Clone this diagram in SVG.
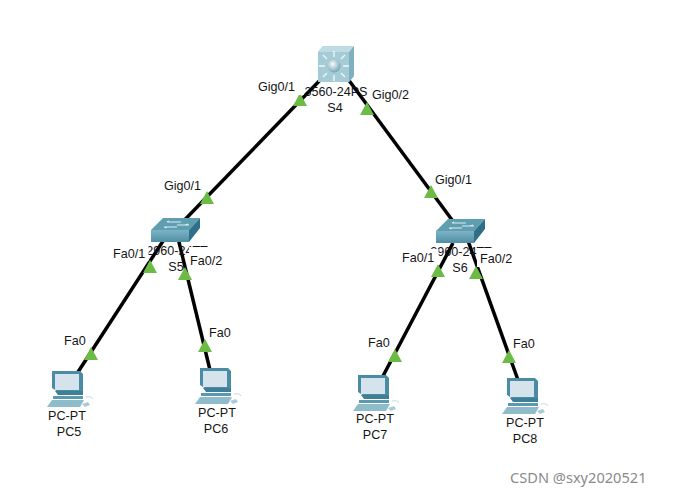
<svg xmlns="http://www.w3.org/2000/svg" width="676" height="495" viewBox="0 0 676 495">
<style>
text{font-family:"Liberation Sans",Arial,sans-serif;font-size:12.6px;fill:#151515}
.m{text-anchor:middle}
.link{stroke:#000;stroke-width:3.5;fill:none}
.tri{fill:#6cbb45}
.bg{fill:#fff}
.wm{font-family:"Noto Sans","Liberation Sans",sans-serif;font-size:14.6px;fill:#8a8a8a}
</style>
<defs>
<radialGradient id="ball" cx="0.4" cy="0.35" r="0.7"><stop offset="0" stop-color="#f6fbfd"/><stop offset="1" stop-color="#6d9fb0"/></radialGradient>
<linearGradient id="front" x1="0" y1="0" x2="0" y2="1"><stop offset="0" stop-color="#7db4c5"/><stop offset="1" stop-color="#4f8ea5"/></linearGradient>
<polygon id="t" class="tri" points="0,-7 7,6 -7,6"/>
<g id="sw">
<polygon points="0,12 12,0 49,0 38,12" fill="#5f9db1"/>
<polygon points="38,12 49,0 49,10 38,24" fill="#2f6f88"/>
<rect x="0" y="12" width="38" height="12" fill="url(#front)"/>
<path d="M17 4h13M26 7h12M13 9h13M18 3l-2 1M37 6l-3 1M16 9l-2 1" stroke="#dcecf1" stroke-width="1.1" fill="none"/>
</g>
<g id="pc">
<polygon points="2,0 30,0 33,3 33,20 8,21 2,17" fill="#4a8ca3"/>
<rect x="5" y="3" width="24" height="16" fill="#d5e4ec"/>
<polygon points="5,20 33,20 33,24 8,24" fill="#3d7f96"/>
<polygon points="3,25 33,25 33,28 3,28" fill="#5a9ab0"/>
<polygon points="-3,36 2,29 34,29 30,36" fill="#8fbccb"/>
<polygon points="32,33 38,31 40,34 35,36" fill="#a9cbd6"/>
<path d="M36 26q6-1 7 2" stroke="#c6d8df" fill="none"/>
</g>
</defs>
<rect width="676" height="495" fill="#fff"/>
<g id="connectors">
<line class="link" x1="325" y1="75" x2="170" y2="235"/>
<line class="link" x1="345" y1="75" x2="458" y2="228"/>
<line class="link" x1="165" y1="238" x2="78" y2="372"/>
<line class="link" x1="178" y1="238" x2="210" y2="370"/>
<line class="link" x1="453" y1="243" x2="383" y2="376"/>
<line class="link" x1="467" y1="238" x2="518" y2="380"/>
<use href="#t" x="300" y="100"/>
<use href="#t" x="207" y="198"/>
<use href="#t" x="367" y="109"/>
<use href="#t" x="431" y="192"/>
<use href="#t" x="150" y="267"/>
<use href="#t" x="91" y="354"/>
<use href="#t" x="185" y="274"/>
<use href="#t" x="205" y="346"/>
<use href="#t" x="438" y="271"/>
<use href="#t" x="395" y="356"/>
<use href="#t" x="476" y="273"/>
<use href="#t" x="509" y="357"/>
</g>
<g id="S4">
<polygon points="318,52 323,46 354,46 354,76 349,82 318,82" fill="#a5cbd6"/>
<polygon points="349,52 354,46 354,76 349,82" fill="#7fb0bf"/>
<polygon points="318,52 323,46 354,46 349,52" fill="#bfdbe3"/>
<circle cx="334" cy="66" r="6.5" fill="url(#ball)"/>
<path d="M334 57v-6M334 75v6M325 66h-6M343 66h6M327 59l-4-4M341 73l4 4M341 59l4-4M327 73l-4 4" stroke="#f1f7f9" stroke-width="1.4"/>
<text class="m" x="336" y="96">3560-24PS</text>
<text class="m" x="335" y="112">S4</text>
</g>
<g id="S5">
<use href="#sw" x="151" y="218"/>
<text class="m" x="177" y="255">2960-24TT</text>
<text class="m" x="176" y="271">S5</text>
</g>
<g id="S6">
<use href="#sw" x="436" y="219"/>
<text class="m" x="461" y="256">2960-24TT</text>
<text class="m" x="460" y="272">S6</text>
</g>
<g id="PC5"><use href="#pc" x="50" y="371"/><text class="m" x="67" y="420">PC-PT</text><text class="m" x="69" y="436">PC5</text></g>
<g id="PC6"><use href="#pc" x="198" y="368"/><text class="m" x="217" y="417">PC-PT</text><text class="m" x="216" y="433">PC6</text></g>
<g id="PC7"><use href="#pc" x="356" y="375"/><text class="m" x="375" y="423">PC-PT</text><text class="m" x="375" y="439">PC7</text></g>
<g id="PC8"><use href="#pc" x="505" y="378"/><text class="m" x="525" y="427">PC-PT</text><text class="m" x="525" y="443">PC8</text></g>
<g id="port-labels">
<rect class="bg" x="257" y="79" width="47" height="16"/>
<text x="258" y="91">Gig0/1</text>
<text x="372" y="99">Gig0/2</text>
<text x="164" y="190">Gig0/1</text>
<text x="435" y="184">Gig0/1</text>
<rect class="bg" x="112" y="245" width="36.500" height="16"/>
<text x="113" y="258">Fa0/1</text>
<rect class="bg" x="189" y="247" width="36" height="20"/>
<text x="190" y="265">Fa0/2</text>
<rect class="bg" x="401" y="249" width="37.500" height="16"/>
<text x="402" y="262">Fa0/1</text>
<rect class="bg" x="477" y="248" width="38" height="19"/>
<text x="480" y="263">Fa0/2</text>
<text x="64" y="345">Fa0</text>
<text x="209" y="337">Fa0</text>
<text x="368" y="347">Fa0</text>
<text x="513" y="348">Fa0</text>
</g>
<text class="wm" x="510" y="483">CSDN @sxy2020521</text>
</svg>
